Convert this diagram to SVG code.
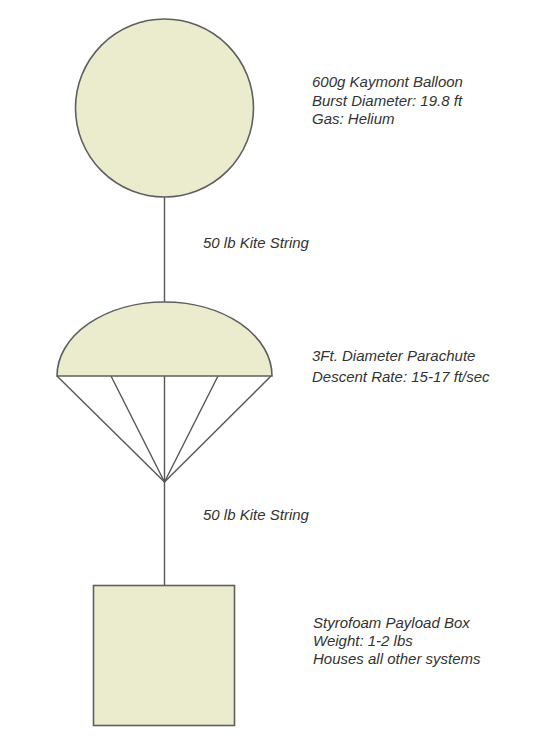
<svg xmlns="http://www.w3.org/2000/svg" width="537" height="747" viewBox="0 0 537 747">
<style>
.shape{fill:#EBEBCD;stroke:#5f5f5f;stroke-width:1.6}
.line{fill:none;stroke:#555;stroke-width:1.4}
.lbl{font-family:"Liberation Sans",Arial,sans-serif;font-style:italic;font-size:15px;fill:#333}
</style>
<rect width="537" height="747" fill="#fff"/>
<g id="connectors">
<line class="line" x1="164.5" y1="197" x2="164.5" y2="302"/>
<line class="line" x1="164.5" y1="376" x2="164.5" y2="585"/>
<g id="shrouds">
<line class="line" x1="57" y1="376" x2="164.5" y2="482"/>
<line class="line" x1="111" y1="376" x2="164.5" y2="482"/>
<line class="line" x1="218" y1="376" x2="164.5" y2="482"/>
<line class="line" x1="271" y1="376" x2="164.5" y2="482"/>
</g>
<text class="lbl" x="203" y="248">50 lb Kite String</text>
<text class="lbl" x="203" y="520">50 lb Kite String</text>
</g>
<g id="balloon">
<circle class="shape" cx="164.5" cy="108" r="89"/>
<text class="lbl" x="312" y="87">600g Kaymont Balloon</text>
<text class="lbl" x="312" y="106">Burst Diameter: 19.8 ft</text>
<text class="lbl" x="312" y="124">Gas: Helium</text>
</g>
<g id="parachute">
<path class="shape" d="M57,376 A107.5,74 0 0 1 272,376 Z"/>
<text class="lbl" x="312" y="361">3Ft. Diameter Parachute</text>
<text class="lbl" x="312" y="382">Descent Rate: 15-17 ft/sec</text>
</g>
<g id="payload">
<rect class="shape" x="93.5" y="585.5" width="141" height="140"/>
<text class="lbl" x="313" y="628">Styrofoam Payload Box</text>
<text class="lbl" x="313" y="646">Weight: 1-2 lbs</text>
<text class="lbl" x="313" y="664">Houses all other systems</text>
</g>
</svg>
